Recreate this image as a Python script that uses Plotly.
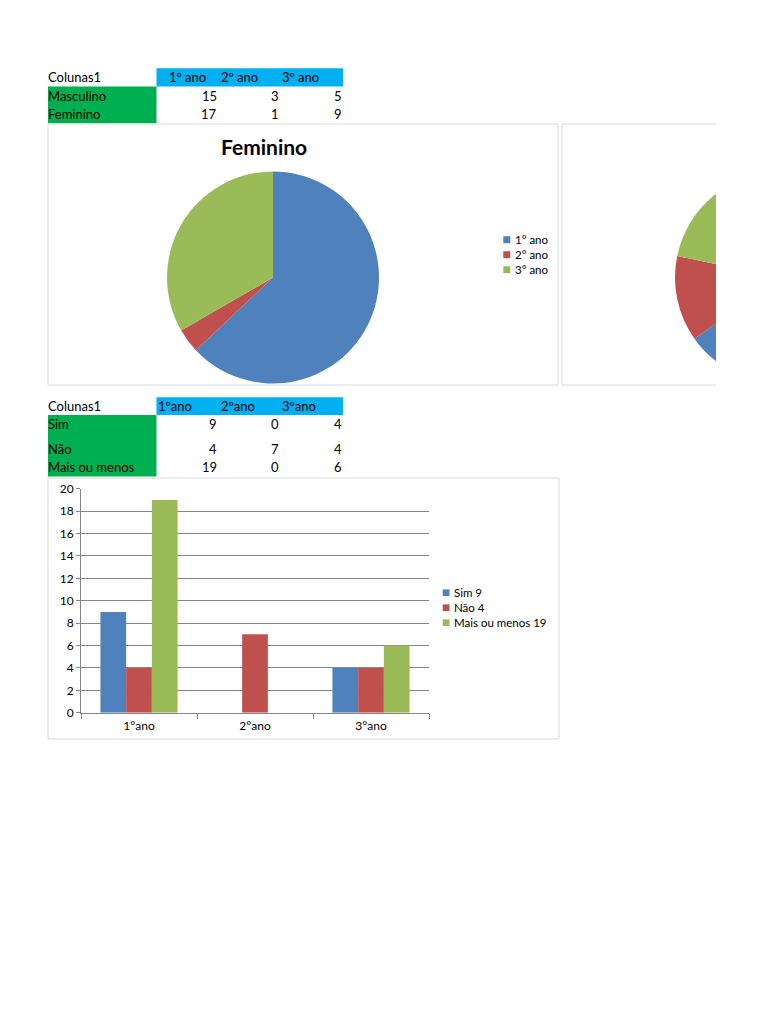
import plotly.graph_objects as go

# ---------------- data ----------------
t1_title = "Colunas1"
t1_cols = ["1º ano", "2º ano", "3º ano"]
t1_rows = ["Masculino", "Feminino"]
masculino = [15, 3, 5]
feminino = [17, 1, 9]

t2_title = "Colunas1"
t2_cols = ["1ºano", "2ºano", "3ºano"]
t2_rows = ["Sim", "Não", "Mais ou menos"]
sim = [9, 0, 4]
nao = [4, 7, 4]
mais = [19, 0, 6]

pie_title = "Feminino"
pie_labels = ["1° ano", "2° ano", "3° ano"]
bar_cats = ["1°ano", "2°ano", "3°ano"]
bar_names = ["Sim 9", "Não 4", "Mais ou menos 19"]

# ---------------- style / layout constants ----------------
W, H = 900, 1024          # canvas; the visible window is 768 px wide
CLIP = 716                # the page content is cut here
FONT = "Lato"
BLUE, RED, GREEN = "#4F81BD", "#C0504D", "#9BBB59"
SERIES_COLORS = [BLUE, RED, GREEN]
CYAN, TGREEN = "#00B0F0", "#00B050"
BORDER = "#D9D9D9"
GRID = "#868686"


def px(x):
    return x / W


def py(y):
    return 1 - y / H


shapes = []
annotations = []


def rect(x0, y0, x1, y1, fill=None, line=None, layer="below"):
    shapes.append(dict(type="rect", xref="paper", yref="paper",
                       x0=px(x0), x1=px(x1), y0=py(y1), y1=py(y0),
                       fillcolor=fill if fill else "rgba(0,0,0,0)",
                       line=dict(color=line if line else "rgba(0,0,0,0)",
                                 width=1 if line else 0),
                       layer=layer))


def text(s, x, y, anchor="left", size=13, bold=False, color="black"):
    annotations.append(dict(text=f"<b>{s}</b>" if bold else s,
                            xref="paper", yref="paper", x=px(x), y=py(y),
                            xanchor=anchor, yanchor="middle", showarrow=False,
                            borderpad=0,
                            font=dict(family=FONT, size=size, color=color)))


# ---------------- tables ----------------
COL_A0, COL_B0, COL_END = 48, 156.5, 343
VAL_RIGHT = [218, 280, 343]


def table(title, cols, col_x, rows, values, head_y0, head_y1, body_y1, row_y):
    rect(COL_B0, head_y0, COL_END, head_y1, fill=CYAN)
    rect(COL_A0, head_y1, COL_B0, body_y1, fill=TGREEN)
    hy = (head_y0 + head_y1) / 2
    text(title, 47, hy)
    for c, cx in zip(cols, col_x):
        text(c, cx, hy)
    for r, (name, yy) in enumerate(zip(rows, row_y)):
        text(name, 47, yy)
        for c in range(len(cols)):
            text(str(values[r][c]), VAL_RIGHT[c], yy, anchor="right")


table(t1_title, t1_cols, [168, 220, 281], t1_rows, [masculino, feminino],
      68.3, 86.5, 123.3, [95.5, 114])
table(t2_title, t2_cols, [157, 220, 281], t2_rows, [sim, nao, mais],
      397.3, 415, 476.5, [424, 449, 466.5])

# ---------------- chart frames ----------------
rect(48, 124, 558, 385, line=BORDER)
rect(562, 124, W + 5, 385, line=BORDER)
rect(48, 478, 559, 739, line=BORDER)

# ---------------- pies ----------------
fig = go.Figure()
R = 106


def pie(values, cx, cy):
    fig.add_trace(go.Pie(
        labels=pie_labels, values=values, sort=False, direction="clockwise",
        rotation=0, textinfo="none", showlegend=False,
        marker=dict(colors=SERIES_COLORS, line=dict(width=0)),
        domain=dict(x=[px(cx - R), px(cx + R)], y=[py(cy + R), py(cy - R)])))


pie(feminino, 273, 277.5)
pie(masculino, 781, 277.5)

text(pie_title, 264, 146, anchor="center", size=21, bold=True)

# pie legend
for i, lab in enumerate(pie_labels):
    yy = 239.7 + 15 * i
    rect(503.3, yy - 3.5, 510.3, yy + 3.5, fill=SERIES_COLORS[i])
    text(lab, 514, yy, size=11.5)

# ---------------- bar chart ----------------
for name, vals, col in zip(bar_names, [sim, nao, mais], SERIES_COLORS):
    fig.add_trace(go.Bar(x=bar_cats, y=vals, name=name, marker_color=col,
                         marker_line_width=0, showlegend=False))

for i, name in enumerate(bar_names):
    yy = 592.7 + 15 * i
    rect(442.7, yy - 3.3, 449.5, yy + 3.3, fill=SERIES_COLORS[i])
    text(name, 453, yy, size=11.5)

# cover everything right of the page edge
rect(CLIP, 0, W + 10, H, fill="white", layer="above")

fig.update_layout(
    width=W, height=H, margin=dict(l=0, r=0, t=0, b=0, autoexpand=False),
    paper_bgcolor="white", plot_bgcolor="white",
    font=dict(family=FONT, size=12, color="black"),
    barmode="group", bargap=0.335, bargroupgap=0,
    showlegend=False,
    shapes=shapes, annotations=annotations,
    xaxis=dict(domain=[px(81), px(429)], type="category", showline=True,
               linecolor=GRID, linewidth=1, ticks="outside", tickson="boundaries",
               ticklen=5, tickcolor=GRID, showgrid=False, zeroline=False,
               automargin=False, ticklabelstandoff=2,
               tickfont=dict(family=FONT, size=12), fixedrange=True),
    yaxis=dict(domain=[py(712.7), py(488.7)], range=[0, 20], dtick=2, tick0=0,
               showgrid=True, gridcolor=GRID, gridwidth=1, showline=True,
               linecolor=GRID, linewidth=1, ticks="outside", ticklen=4,
               tickcolor=GRID, zeroline=False, automargin=False,
               tickfont=dict(family=FONT, size=12), fixedrange=True),
)

fig.write_html("out.html",
               post_script="document.documentElement.style.overflow='hidden';"
                           "document.body.style.overflow='hidden';")
